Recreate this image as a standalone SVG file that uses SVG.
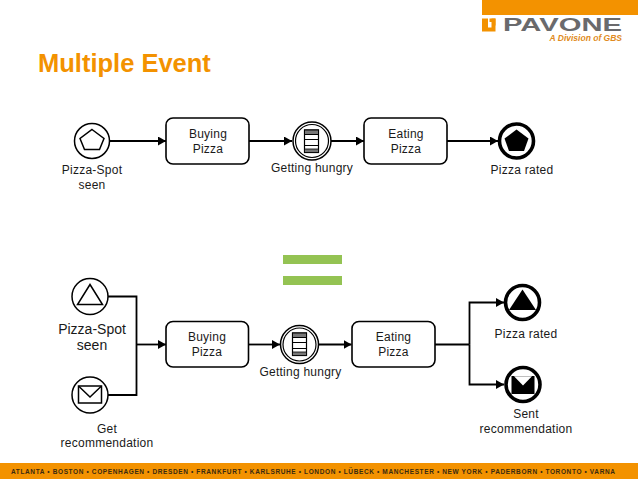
<svg xmlns="http://www.w3.org/2000/svg" width="638" height="479" viewBox="0 0 638 479">
<defs>
<marker id="arrow" markerUnits="userSpaceOnUse" markerWidth="9" markerHeight="10" refX="8" refY="4.500" orient="auto"><path d="M0 0L8 4.500L0 9Z" fill="#000"/></marker>
</defs>
<style>
text{font-family:"Liberation Sans",Arial,sans-serif;fill:#1a1a1a}
.l{font-size:12px;text-anchor:middle;letter-spacing:.25px}
.b{font-size:14px;text-anchor:middle}
.task{fill:#fff;stroke:#000;stroke-width:1.6}
.ev{fill:#fff;stroke:#000;stroke-width:1.5}
.end{fill:#fff;stroke:#000;stroke-width:3.6}
.thin{fill:none;stroke:#000;stroke-width:1.2}
.sym{fill:#fff;stroke:#000;stroke-width:1.5}
.blk{fill:#000;stroke:none}
.c{fill:none;stroke:#000;stroke-width:1.8}
.ca{fill:none;stroke:#000;stroke-width:1.8;marker-end:url(#arrow)}
.o{fill:#f39200}
.eq{fill:#94c353}
</style>
<rect width="638" height="479" fill="#fff"/>
<g id="brand">
<rect class="o" x="482" y="0" width="156" height="15"/>
<path class="o" d="M482 18.500h6v9h3.500v-9h4v13h-13.500z"/>
<path class="o" d="M489.500 18.500h6v7h-2.500v-3.500h-3.500z"/>
<text x="503" y="31" textLength="119" lengthAdjust="spacingAndGlyphs" style="font-size:18px;font-weight:bold;fill:#6a6a6c">PAVONE</text>
<text x="622" y="41" text-anchor="end" style="font-size:8.500px;font-weight:bold;font-style:italic;fill:#e08a20">A Division of GBS</text>
</g>
<text id="title" x="38" y="72" style="font-size:25.500px;font-weight:bold;fill:#f39200">Multiple Event</text>
<g id="connectors">
<path class="ca" d="M110 141H166"/>
<path class="ca" d="M249 141H292"/>
<path class="ca" d="M331 141H364"/>
<path class="ca" d="M447 141H498"/>
<path class="c" d="M108 296.500H136.500V395H108"/>
<path class="ca" d="M136.500 344.500H166"/>
<path class="ca" d="M248.500 344.500H280"/>
<path class="ca" d="M319 344.500H351.500"/>
<path class="c" d="M435 344.500H469.500"/>
<path class="ca" d="M469.500 344.500V302.500H504"/>
<path class="ca" d="M469.500 344.500V384.500H504"/>
</g>
<g id="top-start">
<circle class="ev" cx="92" cy="141" r="17.500"/>
<path class="sym" d="M92 129.500L104 138.500L99.500 149.500H84.500L80 138.500Z"/>
<text class="l" x="92" y="174">Pizza-Spot</text><text class="l" x="92" y="189">seen</text>
</g>
<g id="top-buying">
<rect class="task" x="166" y="118" width="83" height="46" rx="7"/>
<text class="l" x="208" y="138">Buying</text><text class="l" x="208" y="153">Pizza</text>
</g>
<g id="top-hungry">
<circle class="ev" cx="312" cy="141" r="19"/><circle class="thin" cx="312" cy="141" r="16.500"/>
<rect class="thin" x="304.500" y="130" width="14" height="22.500"/>
<rect x="304.500" y="130" width="14" height="4.500" fill="#777" stroke="#000"/>
<path class="thin" d="M304.500 139.500H318.500M304.500 145.500H318.500"/>
<rect x="304.500" y="149" width="14" height="3.500" fill="#777" stroke="#000" stroke-width=".8"/>
<text class="l" x="312" y="172">Getting hungry</text>
</g>
<g id="top-eating">
<rect class="task" x="364" y="118" width="83" height="46" rx="7"/>
<text class="l" x="406" y="138">Eating</text><text class="l" x="406" y="153">Pizza</text>
</g>
<g id="top-end">
<circle class="end" cx="516.500" cy="141" r="17"/>
<path class="blk" d="M516.500 129.500L528.500 138.500L524 151H509L504.500 138.500Z"/>
<text class="l" x="522" y="174">Pizza rated</text>
</g>
<g id="equals">
<rect class="eq" x="283" y="255" width="59" height="9"/>
<rect class="eq" x="283" y="276" width="59" height="9"/>
</g>
<g id="bottom-start-1">
<circle class="ev" cx="90" cy="296.500" r="18"/>
<path class="sym" d="M90 284.500L102.500 304.500H77.500Z"/>
<text class="b" x="92" y="334">Pizza-Spot</text><text class="b" x="92" y="350">seen</text>
</g>
<g id="bottom-start-2">
<circle class="ev" cx="90" cy="395" r="18"/>
<rect class="sym" x="78.500" y="386" width="23" height="17"/>
<path class="thin" style="stroke-width:1.500" d="M78.500 386L90 397L101.500 386"/>
<text class="l" x="107" y="433">Get</text><text class="l" x="107" y="447">recommendation</text>
</g>
<g id="bottom-buying">
<rect class="task" x="166" y="321.500" width="82.500" height="45.500" rx="7"/>
<text class="l" x="207" y="341">Buying</text><text class="l" x="207" y="356">Pizza</text>
</g>
<g id="bottom-hungry">
<circle class="ev" cx="299.500" cy="344.500" r="19"/><circle class="thin" cx="299.500" cy="344.500" r="16.500"/>
<rect class="thin" x="292.500" y="333" width="14" height="22.500"/>
<rect x="292.500" y="333" width="14" height="4.500" fill="#777" stroke="#000"/>
<path class="thin" d="M292.500 342.500H306.500M292.500 348.500H306.500"/>
<rect x="292.500" y="352" width="14" height="3.500" fill="#777" stroke="#000" stroke-width=".8"/>
<text class="l" x="300.500" y="376">Getting hungry</text>
</g>
<g id="bottom-eating">
<rect class="task" x="352" y="321.500" width="83" height="45.500" rx="7"/>
<text class="l" x="393.500" y="341">Eating</text><text class="l" x="393.500" y="356">Pizza</text>
</g>
<g id="bottom-end-1">
<circle class="end" cx="522.500" cy="302.500" r="17"/>
<path class="blk" d="M522.500 289.500L536 310H509Z"/>
<text class="l" x="526" y="338">Pizza rated</text>
</g>
<g id="bottom-end-2">
<circle class="end" cx="523" cy="384.500" r="17"/>
<rect class="blk" x="511.500" y="376" width="23" height="18"/>
<path d="M514 376.200L523 385.500L532 376.200Z" fill="#fff"/>
<text class="l" x="526" y="418">Sent</text><text class="l" x="526" y="433">recommendation</text>
</g>
<g id="footer">
<rect class="o" x="0" y="463" width="638" height="16"/>
<text x="11" y="474" textLength="604" style="font-size:6.500px;font-weight:bold;fill:#3a2a10">ATLANTA • BOSTON • COPENHAGEN • DRESDEN • FRANKFURT • KARLSRUHE • LONDON • LÜBECK • MANCHESTER • NEW YORK • PADERBORN • TORONTO • VARNA</text>
</g>
</svg>
